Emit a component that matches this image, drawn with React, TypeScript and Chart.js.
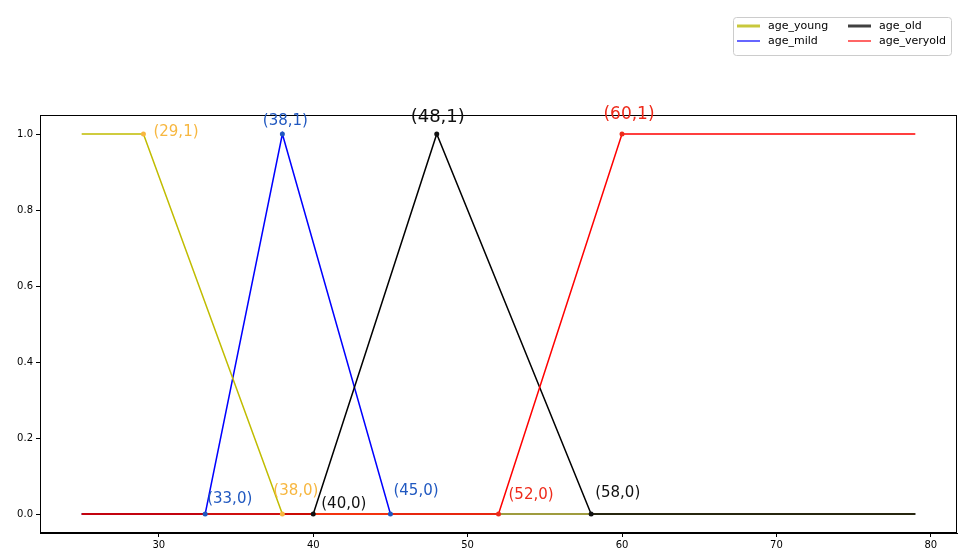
import React, { useEffect, useRef } from "react";
import { Chart, registerables } from "chart.js";

Chart.register(...registerables);

// ---- data ----
const youngX = [25, 29, 38, 79];
const youngY = [1, 1, 0, 0];
const mildX = [25, 33, 38, 45, 79];
const mildY = [0, 0, 1, 0, 0];
const oldX = [25, 40, 48, 58, 79];
const oldY = [0, 0, 1, 0, 0];
const veryoldX = [25, 52, 60, 79];
const veryoldY = [0, 0, 1, 1];

const seriesNames = ["age_young", "age_mild", "age_old", "age_veryold"];
const xTicks = [30, 40, 50, 60, 70, 80];
const yTicks = [0, 0.2, 0.4, 0.6, 0.8, 1.0];

const annotLabels = ["(29,1)", "(38,1)", "(48,1)", "(60,1)", "(33,0)", "(38,0)", "(40,0)", "(45,0)", "(52,0)", "(58,0)"];
const annotX = [29, 38, 48, 60, 33, 38, 40, 45, 52, 58];
const annotY = [1, 1, 1, 1, 0, 0, 0, 0, 0, 0];

// ---- styles ----
const lineColors = ["#c0bc00", "#0000ff", "#000000", "#ff0000"];
const drawOrder = [3, 4, 2, 1];
const legendColors = ["#c8c83c", "#3f3fff", "#404040", "#ff3f3f"];
const legendWidths = [3, 1.6, 3, 1.6];
const annotColors = ["#f7b740", "#2058c0", "#111111", "#ee2a1a", "#2058c0", "#f7b740", "#111111", "#2058c0", "#ee2a1a", "#111111"];
const annotOffsets: [number, number, string, number][] = [
  [10, -2, "left", 15],
  [3, -13, "center", 15],
  [1, -17, "center", 18],
  [7, -19, "center", 17],
  [2, -15, "left", 15],
  [-9, -23, "left", 15],
  [8, -10, "left", 15],
  [3, -23, "left", 15],
  [10, -19, "left", 15],
  [4, -21, "left", 15],
];

const zip = (xs: number[], ys: number[]) => xs.map((x, i) => ({ x, y: ys[i] }));

const overlayPlugin = {
  id: "overlay",
  afterDatasetsDraw(chart: any) {
    const { ctx, chartArea, scales } = chart;
    ctx.save();
    ctx.strokeStyle = "#000";
    ctx.lineWidth = 1;
    ctx.strokeRect(chartArea.left + 0.5, chartArea.top + 0.5, chartArea.right - chartArea.left - 1, chartArea.bottom - chartArea.top - 1);
    annotLabels.forEach((lab, i) => {
      const px = scales.x.getPixelForValue(annotX[i]);
      const py = scales.y.getPixelForValue(annotY[i]);
      ctx.fillStyle = annotColors[i];
      ctx.beginPath();
      ctx.arc(px, py, 2.5, 0, Math.PI * 2);
      ctx.fill();
      const [dx, dy, align, size] = annotOffsets[i];
      ctx.font = `${size}px "DejaVu Sans"`;
      ctx.textAlign = align;
      ctx.textBaseline = "middle";
      ctx.fillText(lab, px + dx, py + dy);
    });
    const lx = 733, ly = 17, lw = 218, lh = 38;
    ctx.fillStyle = "rgba(255,255,255,0.9)";
    ctx.strokeStyle = "#cccccc";
    ctx.lineWidth = 1;
    ctx.beginPath();
    (ctx as any).roundRect(lx + 0.5, ly + 0.5, lw, lh, 3);
    ctx.fill();
    ctx.stroke();
    const pos = [
      [737, 26],
      [737, 41],
      [848, 26],
      [848, 41],
    ];
    ctx.font = '11px "DejaVu Sans"';
    ctx.textAlign = "left";
    ctx.textBaseline = "middle";
    seriesNames.forEach((n, i) => {
      const [x, y] = pos[i];
      ctx.strokeStyle = legendColors[i];
      ctx.lineWidth = legendWidths[i];
      ctx.beginPath();
      ctx.moveTo(x, y);
      ctx.lineTo(x + 23, y);
      ctx.stroke();
      ctx.fillStyle = "#000";
      ctx.fillText(n, x + 31, y);
    });
    ctx.restore();
  },
};

export default function App() {
  const ref = useRef<HTMLCanvasElement>(null);
  useEffect(() => {
    document.body.style.margin = "0";
    const data = [zip(youngX, youngY), zip(mildX, mildY), zip(oldX, oldY), zip(veryoldX, veryoldY)];
    const chart = new Chart(ref.current!, {
      type: "line",
      data: {
        datasets: seriesNames.map((n, i) => ({
          label: n,
          data: data[i],
          borderColor: lineColors[i],
          backgroundColor: lineColors[i],
          borderWidth: 1.5,
          pointRadius: 0,
          tension: 0,
          order: drawOrder[i],
        })),
      },
      options: {
        animation: false,
        responsive: false,
        layout: { padding: { left: 0, right: 7, top: 115, bottom: 0 } },
        plugins: { legend: { display: false }, tooltip: { enabled: false } },
        scales: {
          x: {
            type: "linear",
            min: 22.3,
            max: 81.7,
            afterBuildTicks: (s: any) => {
              s.ticks = xTicks.map((v) => ({ value: v }));
            },
            afterFit: (s: any) => {
              s.height = 26;
            },
            grid: { drawOnChartArea: false, drawTicks: true, tickLength: 4, color: "#000" },
            border: { display: true, color: "#000" },
            ticks: { color: "#000", font: { family: "DejaVu Sans", size: 10 }, padding: 2, maxRotation: 0, callback: (v: any) => String(v) },
          },
          y: {
            type: "linear",
            min: -0.05,
            max: 1.05,
            afterBuildTicks: (s: any) => {
              s.ticks = yTicks.map((v) => ({ value: v }));
            },
            afterFit: (s: any) => {
              s.width = 40;
            },
            grid: { drawOnChartArea: false, drawTicks: true, tickLength: 4, color: "#000" },
            border: { display: true, color: "#000" },
            ticks: { color: "#000", font: { family: "DejaVu Sans", size: 10 }, padding: 3, callback: (v: any) => Number(v).toFixed(1) },
          },
        },
      },
      plugins: [overlayPlugin],
    } as any);
    return () => chart.destroy();
  }, []);
  return (
    <div style={{ width: 964, height: 559 }}>
      <canvas ref={ref} width={964} height={559} style={{ display: "block" }} />
    </div>
  );
}
